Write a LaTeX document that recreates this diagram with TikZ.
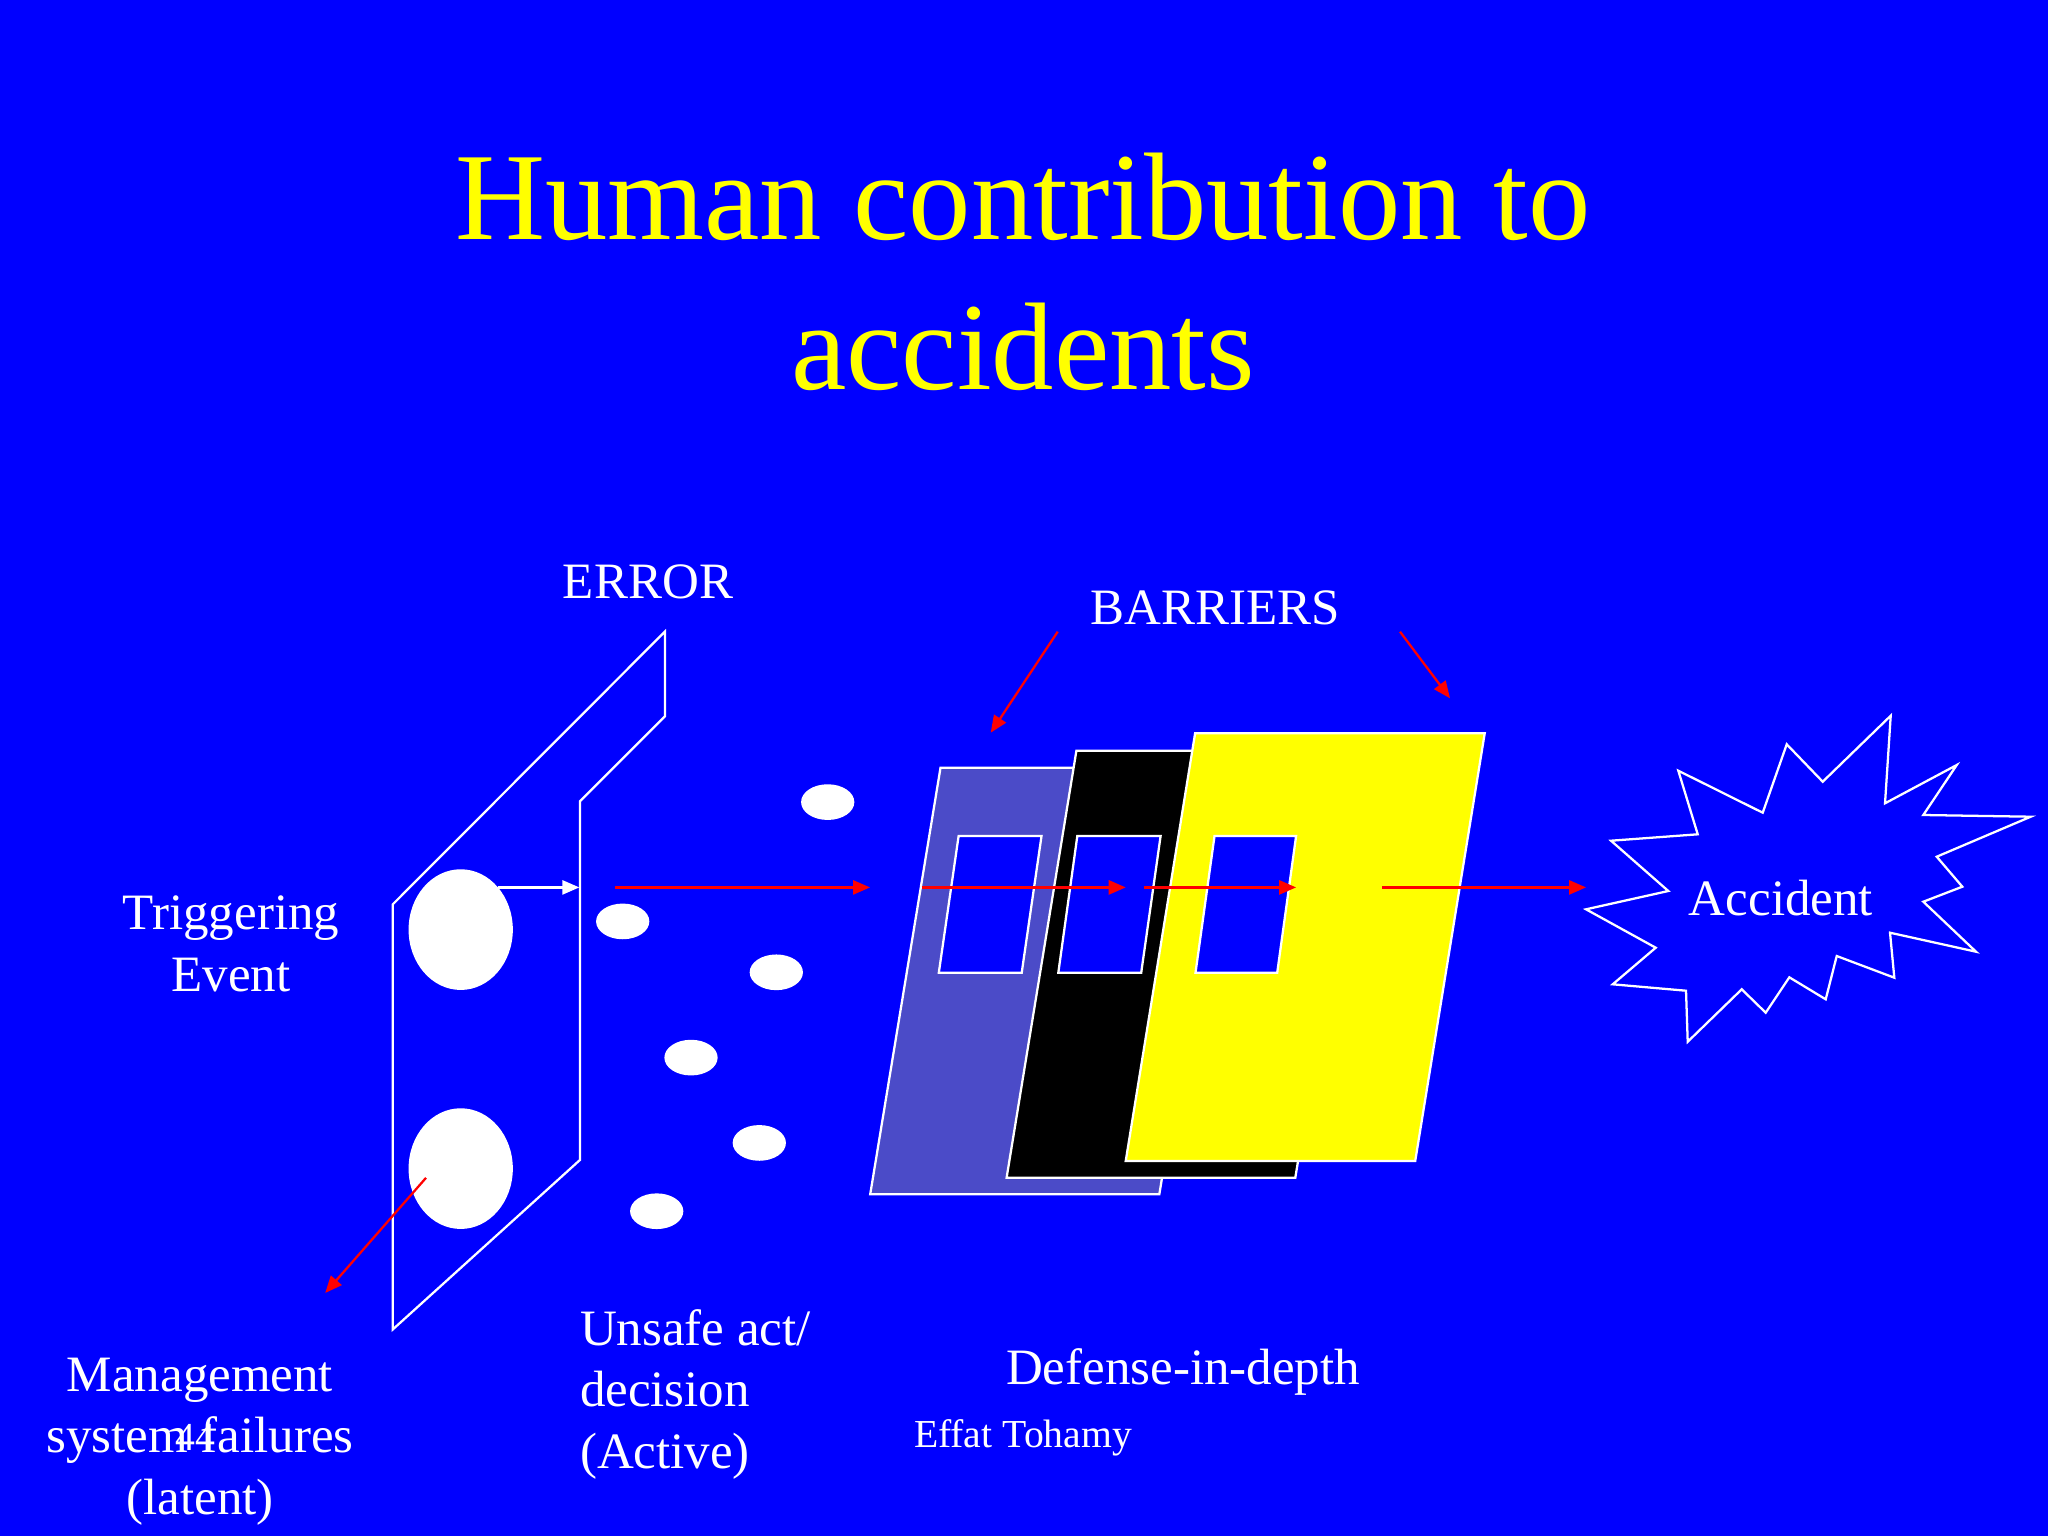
\documentclass[tikz,border=0pt]{standalone}
\usepackage{fontspec}
\setmainfont{Liberation Serif}
\usetikzlibrary{arrows.meta, shapes.geometric}
\definecolor{slideblue}{RGB}{0,0,255}
\definecolor{panelblue}{RGB}{75,75,200}
\definecolor{slideyellow}{RGB}{255,255,0}
\tikzset{
    x=0.0124023cm, y=-0.0124023cm,
    frame/.style={draw=white, line width=0.8pt},
    hole/.style={frame, fill=slideblue},
    bigblob/.style={ellipse, fill=white, inner sep=0pt, minimum width=36.8pt, minimum height=42.6pt},
    blob/.style={ellipse, fill=white, inner sep=0pt, minimum width=18.8pt, minimum height=12.6pt},
    redarrow/.style={draw=red, line width=0.8pt, -{Triangle[length=6pt,width=5pt]}},
    whitearrow/.style={draw=white, line width=0.8pt, -{Triangle[length=6pt,width=5pt]}},
    txt/.style={text=white, font=\fontsize{18}{21.6}\selectfont, align=center, anchor=base},
    small/.style={text=white, font=\fontsize{14}{16.8}\selectfont, anchor=base}
}

\begin{document}
\begin{tikzpicture}
    % slide background
    \fill[slideblue] (0,0) rectangle (2048,1536);
    \useasboundingbox (0,0) rectangle (2048,1536);
    \node[anchor=base, text=slideyellow, font=\fontsize{44}{52.8}\selectfont, align=center] (title) at (1023,389) {Human contribution to\\accidents};

    % error plane with triggering events
    \draw[frame] (392.7,904.4) -- (665,631.5) -- (665,716.3) -- (580,801.2) -- (580,1159.9) -- (392.7,1329.5) -- cycle;
    \node[bigblob] (trig) at (460.7,929.6) {};
    \node[bigblob] (latent) at (460.7,1168.6) {};
    \node[blob] (u1) at (827.7,802.1) {};
    \node[blob] (u2) at (622.7,921.4) {};
    \node[blob] (u3) at (776.3,972.3) {};
    \node[blob] (u4) at (691,1057.6) {};
    \node[blob] (u5) at (759.3,1142.9) {};
    \node[blob] (u6) at (656.7,1211.2) {};

    % barriers
    \filldraw[frame, fill=panelblue] (940.5,767.7) -- (1229.6,767.7) -- (1159.3,1194.3) -- (870.2,1194.3) -- cycle;
    \draw[hole] (958.6,836) -- (1041.5,836) -- (1021.7,972.7) -- (938.8,972.7) -- cycle;
    \filldraw[frame, fill=black] (1076.4,750.7) -- (1365,750.7) -- (1295.3,1177.7) -- (1006.6,1177.7) -- cycle;
    \draw[hole] (1077.3,836) -- (1160.6,836) -- (1141.2,972.7) -- (1058.3,972.7) -- cycle;
    \filldraw[frame, fill=slideyellow] (1195.1,733.3) -- (1484.7,733.3) -- (1415.2,1161) -- (1125.7,1161) -- cycle;
    \draw[hole] (1214.5,836) -- (1296.1,836) -- (1277.2,972.7) -- (1195.5,972.7) -- cycle;

    % accident burst
    \draw[frame] (1678.3,770.7) -- (1762.7,812.7) -- (1786.7,744.3) -- (1822.7,781.7) -- (1890.7,715.7)
        -- (1885,803.3) -- (1956.7,765) -- (1923.3,815) -- (2030.7,816.7) -- (1936.7,856.7)
        -- (1962.3,886.7) -- (1923.3,901.7) -- (1976,951.7) -- (1890,932.7) -- (1894.3,977.7)
        -- (1836.7,956) -- (1825.7,999.3) -- (1789.3,977.3) -- (1765.7,1012.7) -- (1741.7,989.3)
        -- (1687.7,1041.7) -- (1686,990.7) -- (1612.7,984.3) -- (1655.7,947.7) -- (1586,909.3)
        -- (1668.3,891) -- (1611,840.7) -- (1697.7,834.3) -- cycle;
    \node[txt] (accident) at (1781,915) {Accident};

    % labels (multi-line nodes sit on their last baseline)
    \node[txt] (error) at (648,598) {ERROR};
    \node[txt] (barriers) at (1215,624) {BARRIERS};
    \node[txt] (trigger) at (231,991) {Triggering\\Event};
    \node[txt] (mgmt) at (200,1514) {Management\\system failures\\(latent)};
    \node[txt, anchor=base west, align=left] (unsafe) at (570,1468) {Unsafe act/\\decision\\(Active)};
    \node[txt] (defense) at (1183,1384) {Defense-in-depth};
    \node[small, anchor=base west] (author) at (904,1447) {Effat Tohamy};
    \node[small] (page) at (195,1450) {44};

    % connectors
    \coordinate (w0) at (498.2,887.4);
    \coordinate (w1) at (579.3,887.4);
    \coordinate (r0) at (615,887.4);
    \coordinate (r1) at (870,887.4);
    \coordinate (r2) at (921.5,887.4);
    \coordinate (r3) at (1125.7,887.4);
    \coordinate (r4) at (1143.8,887.4);
    \coordinate (r5) at (1296.1,887.4);
    \coordinate (r6) at (1382.4,887.4);
    \coordinate (r7) at (1586,887.4);
    \coordinate (m0) at (426,1177.8);
    \coordinate (m1) at (325.2,1293);
    \coordinate (b0) at (1057.7,631.7);
    \coordinate (b1) at (990.7,732.7);
    \coordinate (b2) at (1400,631.7);
    \coordinate (b3) at (1450,698.3);
    \draw[whitearrow] (w0) -- (w1);
    \draw[redarrow] (r0) -- (r1);
    \draw[redarrow] (r2) -- (r3);
    \draw[redarrow] (r4) -- (r5);
    \draw[redarrow] (r6) -- (r7);
    \draw[redarrow] (m0) -- (m1);
    \draw[redarrow] (b0) -- (b1);
    \draw[redarrow] (b2) -- (b3);
\end{tikzpicture}
\end{document}
